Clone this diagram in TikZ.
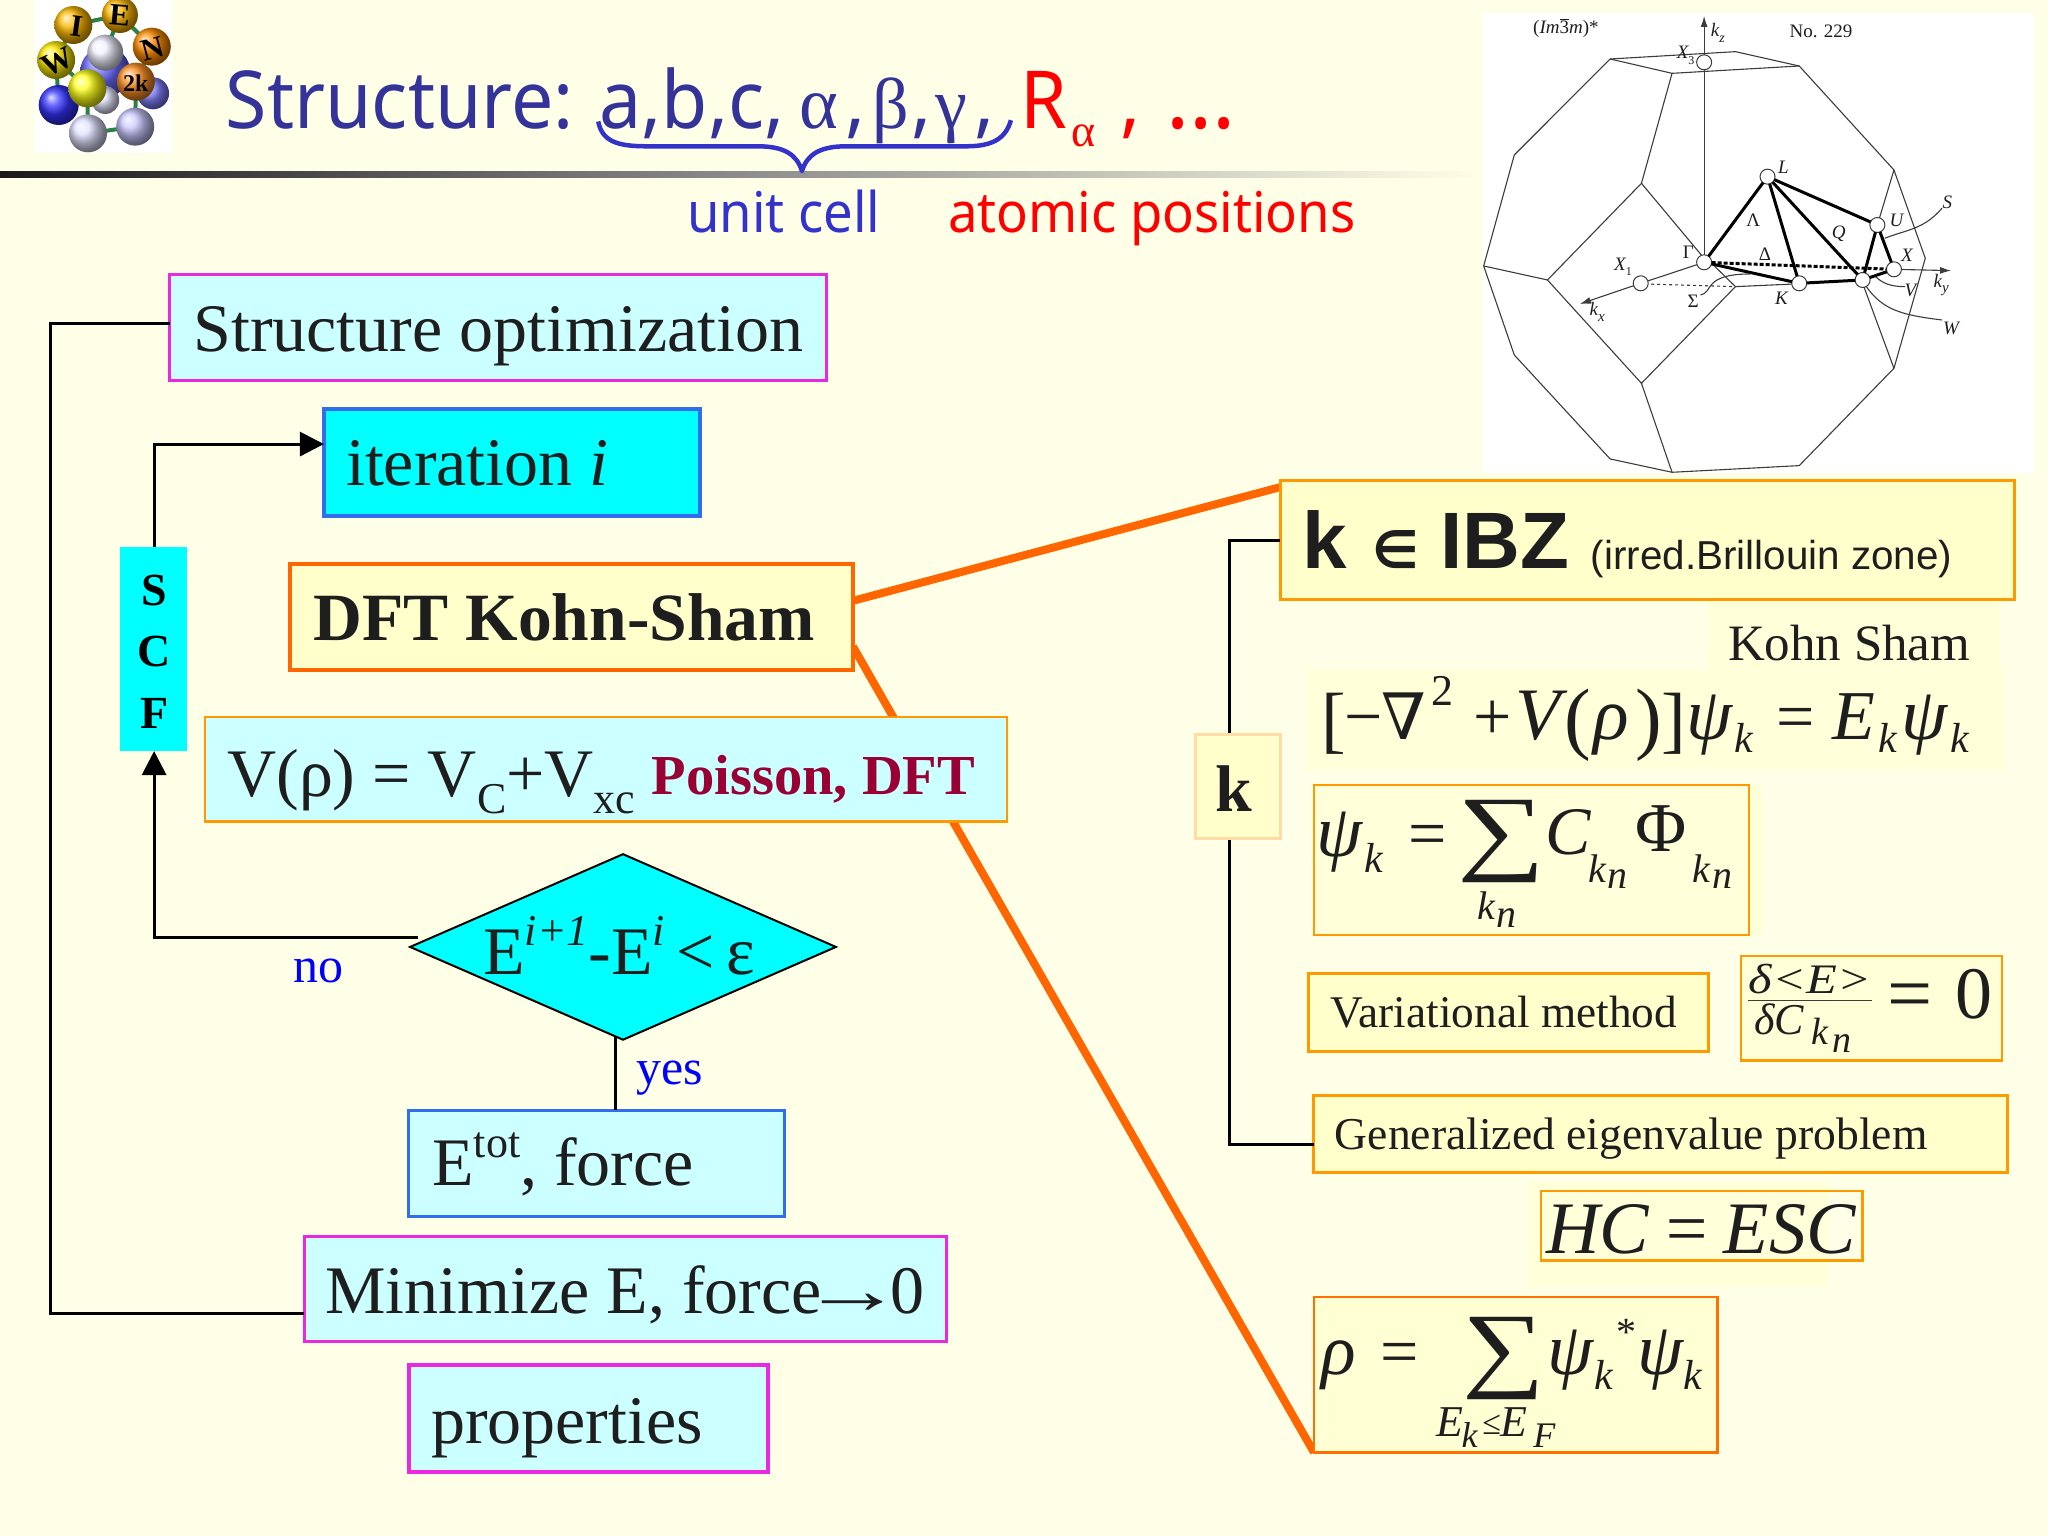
\documentclass[tikz,border=0pt]{standalone}
\usepackage{fontspec}
\usepackage{graphicx}
\setmainfont{Liberation Serif}
\newfontfamily\arial{Liberation Sans}
\newfontfamily\tah[FakeStretch=0.94]{Noto Sans}
\newfontfamily\djsansf{DejaVu Sans}
\newfontfamily\djseriff{DejaVu Serif}
\usetikzlibrary{arrows.meta,shapes.geometric,calc}
\definecolor{bgc}{RGB}{255,255,232}
\definecolor{paleY}{RGB}{255,255,204}
\definecolor{paleC}{RGB}{204,255,255}
\definecolor{cyn}{RGB}{0,255,255}
\definecolor{mag}{RGB}{235,40,225}
\definecolor{blu}{RGB}{50,110,235}
\definecolor{org}{RGB}{255,153,0}
\definecolor{dorg}{RGB}{255,102,0}
\definecolor{navy2}{RGB}{51,51,153}
\definecolor{blu2}{RGB}{51,51,204}
\definecolor{wine}{RGB}{153,0,51}
\definecolor{ink}{RGB}{30,30,30}
\definecolor{bzl}{RGB}{60,60,60}
\newcommand\fs[1]{\fontsize{#1}{#1}\selectfont}
\newcounter{pcn}
\tikzset{
 boxb/.style={draw,rectangle,inner sep=0pt,outer sep=0pt,line width=3pt},
 magbox/.style={boxb,draw=mag,fill=paleC},
 blubox/.style={boxb,draw=blu,fill=paleC},
 orgbox/.style={boxb,draw=org,fill=paleY},
 softbg/.style={rectangle,inner sep=0pt,outer sep=0pt,fill=paleY!55!bgc},
 txt/.style={anchor=base west,inner sep=0pt,outer sep=0pt,text=ink},
 link/.style={black,line width=3pt},
 oline/.style={dorg,line width=8pt},
 arrowed/.style={link,-{Triangle[length=24pt,width=24pt]}},
 thinl/.style={bzl,line width=1.1pt},
 thickl/.style={black,line width=3pt},
 kpt/.style={circle,draw=bzl,fill=white,line width=1pt,minimum size=15pt,inner sep=0pt,outer sep=0pt},
 bzt/.style={inner sep=0pt,outer sep=0pt,text=ink,font=\fs{19}\itshape},
 bzr/.style={bzt,font=\fs{19}},
 bond/.style={line width=4pt,draw={rgb,255:red,40;green,130;blue,70}},
 ltr/.style={inner sep=0pt,font=\fs{31}\bfseries,text=black}
}
% #1 name, #2-#5 x1,y1,x2,y2, #6 style, in reference-overview units
\newcommand\bx[6]{%
 \pgfmathsetmacro\bw{(#4-#2)*1.30612}\pgfmathsetmacro\bh{(#5-#3)*1.30612}%
 \node[#6,minimum width=\bw pt,minimum height=\bh pt] (#1) at ({(#2+#4)/2},{(#3+#5)/2}) {};}
% #1 x, #2 baseline y, #3 font, #4 text
\newcommand\pc[4]{\stepcounter{pcn}\node[txt,font=#3] (pc\arabic{pcn}) at (#1,#2) {#4};}
% #1 x, #2 baseline y, #3 colour, #4 font, #5 text
\newcommand\pcc[5]{\stepcounter{pcn}\node[txt,text=#3,font=#4] (pc\arabic{pcn}) at (#1,#2) {#5};}
\begin{document}
\begin{tikzpicture}[x=1.30612pt,y=-1.30612pt]
\useasboundingbox (0,0) rectangle (1568,1176);
\fill[bgc] (0,0) rectangle (1568,1176);

% ---- top rule
\shade[left color=black!90,right color=bgc,middle color=black!45] (0,131) rectangle (1134,136);

% ---- logo
\begin{scope}[x=0.6378pt,y=-0.3333pt]
\fill[white] (55,0) rectangle (270,460);
\draw[bond] (115,75)--(188,45) (188,45)--(238,140) (115,75)--(88,180) (88,180)--(137,265) (238,140)--(213,245)
 (137,265)--(213,245) (137,265)--(138,400) (213,245)--(212,380) (138,400)--(212,380) (88,180)--(92,315) (188,45)--(165,158) (137,265)--(92,315);
\shade[ball color=blue!60!white] (165,215) circle[radius=25pt];
\shade[ball color=blue!80!white] (92,315) circle[radius=20pt];
\shade[ball color=blue!50!white] (240,280) circle[radius=16pt];
\shade[ball color=blue!10!white] (165,300) circle[radius=14pt];
\shade[ball color=blue!6!white] (165,158) circle[radius=18pt];
\shade[ball color=blue!12!white] (138,400) circle[radius=19pt];
\shade[ball color=blue!22!white] (212,380) circle[radius=19pt];
\shade[ball color=orange!55!yellow] (115,75) circle[radius=19pt];
\shade[ball color=orange!55!yellow] (188,45) circle[radius=18pt];
\shade[ball color=orange!90!yellow] (238,140) circle[radius=19pt];
\shade[ball color=yellow!85!orange] (88,180) circle[radius=19pt];
\shade[ball color=yellow!90!white] (137,265) circle[radius=19pt];
\shade[ball color=orange!85!white] (213,245) circle[radius=19pt];
\node[ltr,rotate=-8] (lI) at (120,80) {I};
\node[ltr,rotate=-5] (lE) at (188,45) {E};
\node[ltr,rotate=15] (lN) at (240,145) {N};
\node[ltr,rotate=25] (lW) at (90,185) {W};
\node[ltr,font=\fs{24}\bfseries] (l2k) at (213,250) {2k};
\end{scope}

% ---- title
\pcc{173}{98}{navy2}{\tah\fs{80}}{Structure:}
\pcc{459}{98}{navy2}{\tah\fs{80}}{a,b,c,}
\pcc{612}{98}{navy2}{\fs{74}}{α}
\pcc{647}{98}{navy2}{\tah\fs{80}}{,}
\pcc{668}{98}{navy2}{\fs{72}}{β}
\pcc{698}{98}{navy2}{\tah\fs{80}}{,}
\pcc{716}{98}{navy2}{\fs{72}}{γ}
\pcc{746}{98}{navy2}{\tah\fs{80}}{,}
\pcc{781}{98}{red}{\tah\fs{80}}{R}
\pcc{820}{112}{red}{\fs{46}}{α}
\pcc{858}{98}{red}{\tah\fs{80}\bfseries}{,}
\pcc{893}{98}{red}{\tah\fs{92}\bfseries}{...}
\coordinate (brL) at (458,93);
\coordinate (brM) at (614,131);
\coordinate (brR) at (774,92);
\draw[blu2,line width=4.5pt,line join=round] (brL) .. controls (461,108) and (472,112) .. (495,112) -- (580,112) .. controls (600,112) and (610,118) .. (brM)
 .. controls (618,118) and (628,112) .. (648,112) -- (740,112) .. controls (760,112) and (770,106) .. (brR);
\pcc{526}{178}{blu2}{\tah\fs{56}}{unit cell}
\pcc{726}{178}{red}{\tah\fs{56}}{atomic positions}

% ---- Brillouin zone
\begin{scope}[shift={(1125.5,0)},x=0.3686pt,y=-0.3333pt]
\fill[white] (35,38) rectangle (1530,1420);
\draw[thinl] (380,177)--(720,155)--(893,198)--(1150,510)--(1235,775)--(1150,1105)--(893,1397)--(548,1417)--(380,1377)--(120,1065)--(37,798)--(120,465)--cycle;
\draw[thinl] (380,177)--(548,220)--(893,198);
\draw[thinl] (548,220)--(465,550)--(210,840)--(37,798);
\draw[thinl] (465,550)--(635,775);
\draw[thinl] (660,795)--(720,860)--(880,852);
\draw[thinl] (210,840)--(465,1150)--(720,860);
\draw[thinl] (465,1150)--(548,1417);
\draw[thinl] (1150,510)--(1105,675);
\draw[thinl] (1065,850)--(1150,1105);
\draw[thinl,dashed] (475,852)--(720,860);
\node[kpt] (G) at (635,787) {};
\node[kpt] (L) at (807,530) {};
\node[kpt] (U) at (1105,675) {};
\node[kpt] (Xp) at (1150,808) {};
\node[kpt] (Wp) at (1065,840) {};
\node[kpt] (Kp) at (893,850) {};
\node[kpt] (X1) at (463,850) {};
\node[kpt] (X3) at (635,187) {};
\coordinate (kzt) at (635,48);
\coordinate (kxt) at (298,912);
\coordinate (kyt) at (1305,812);
\draw[thinl,-{Latex[length=11pt,width=7pt]}] (G) -- (X3) -- (kzt);
\draw[thinl,-{Latex[length=11pt,width=7pt]}] (G) -- (X1) -- (kxt);
\draw[thinl,-{Latex[length=11pt,width=7pt]}] (Xp) -- (kyt);
\draw[thickl] (G)--(L);
\draw[thickl] (L)--(Kp);
\draw[thickl] (L)--(Wp);
\draw[thickl] (L)--(U);
\draw[thickl] (G)--(Kp);
\draw[thickl] (Kp)--(Wp);
\draw[thickl] (Wp)--(U);
\draw[thickl] (U)--(Xp);
\draw[thickl] (Wp)--(Xp);
\draw[thickl,dash pattern=on 4pt off 2pt] (G)--(Xp);
\coordinate (sA) at (1125,715);
\coordinate (sB) at (1280,625);
\coordinate (siA) at (625,885);
\coordinate (siB) at (760,822);
\coordinate (vA) at (1100,830);
\coordinate (vB) at (1180,860);
\coordinate (wA) at (1075,860);
\coordinate (wB) at (1280,960);
\draw[thinl] (sA) .. controls (1180,690) and (1230,690) .. (sB);
\draw[thinl] (siA) .. controls (660,880) and (630,822) .. (siB);
\draw[thinl] (vA) .. controls (1120,850) and (1140,860) .. (vB);
\draw[thinl] (wA) .. controls (1120,930) and (1170,945) .. (wB);
\node[bzr] (tim) at (260,85) {(\textit{Im}$\overline{\hbox{\fs{19}3}}$\textit{m})*};
\node[bzr] (tno) at (952,93) {No. 229};
\node[bzt] (tkz) at (672,98) {k\raisebox{-.3em}{\fs{14}z}};
\node[bzt] (tx3) at (585,165) {X\raisebox{-.3em}{\fs{12}\upshape 3}};
\node[bzt] (tl) at (850,503) {L};
\node[bzt] (tu) at (1157,660) {U};
\node[bzt] (ts) at (1295,607) {S};
\node[bzr] (tla) at (768,660) {Λ};
\node[bzt] (tq) at (1000,700) {Q};
\node[bzr] (tde) at (800,762) {Δ};
\node[bzt] (tx) at (1185,765) {X};
\node[bzr] (tga) at (592,758) {Γ};
\node[bzt] (tx1) at (415,800) {X\raisebox{-.3em}{\fs{12}\upshape 1}};
\node[bzr] (tsi) at (605,905) {Σ};
\node[bzt] (tk) at (845,895) {K};
\node[bzt] (tv) at (1195,870) {V};
\node[bzt] (tky) at (1278,855) {k\raisebox{-.3em}{\fs{15}y}};
\node[bzt] (tw) at (1305,985) {W};
\node[bzt] (tkx) at (345,935) {k\raisebox{-.3em}{\fs{15}x}};
\end{scope}

% ---- orange connectors (under the boxes)
\coordinate (oA) at (653,460);
\coordinate (oB) at (980,373);
\coordinate (oC) at (653,495);
\coordinate (oD) at (1006,1112);
\draw[oline] (oA)--(oB);
\draw[oline] (oC)--(oD);

% ---- background patches on the right
\bx{kshbg}{1307}{460}{1531}{516}{softbg}
\bx{eqbg}{1000}{513}{1535}{590}{softbg}
\bx{psibg}{1006}{601}{1350}{716}{softbg}
\bx{hcbg}{1170}{905}{1400}{985}{softbg}

% ---- left flow boxes
\bx{so}{130}{210}{633}{291}{magbox}
\bx{iter}{248}{313}{536}{395}{boxb,draw=blu,fill=cyn,line width=4pt}
\bx{scf}{92}{419}{143}{575}{fill=cyn,rectangle,inner sep=0pt,outer sep=0pt}
\bx{dft}{222}{432}{653}{513}{boxb,draw=dorg,fill=paleY,line width=4pt}
\bx{vbox}{157}{549}{771}{629}{boxb,draw=org,fill=paleC,line width=2.5pt}
\bx{etot}{313}{850}{601}{931}{blubox}
\bx{mini}{233}{947}{725}{1027}{magbox}
\bx{prop}{313}{1045}{588}{1127}{magbox,line width=4pt}
\node[draw=black,line width=2pt,fill=cyn,diamond,aspect=2.3,inner sep=0pt,outer sep=0pt,minimum width=425.8pt,minimum height=185.5pt] (dia) at (477,725) {};

% ---- left connectors
\coordinate (railT) at (39,248);
\coordinate (railB) at (39,1006);
\draw[link] (so.west |- railT) -- (railT) -- (railB) -- (mini.west |- railB);
\coordinate (sx) at (118,340);
\coordinate (sy) at (118,718);
\coordinate (dl) at (320,718);
\draw[arrowed] (scf.north -| sx) -- (sx) -- (iter.west |- sx);
\draw[arrowed] (dl) -- (sy) -- (scf.south -| sx);
\coordinate (yesT) at (471,794);
\draw[link] (yesT) -- (etot.north -| yesT);

% ---- right boxes
\bx{ibz}{980}{368}{1542}{459}{orgbox}
\coordinate (krT) at (941,414);
\coordinate (krB) at (941,876);
\bx{gen}{1006}{839}{1537}{898}{orgbox}
\draw[link] (ibz.west |- krT) -- (krT) -- (krB) -- (gen.west |- krB);
\bx{kbox}{915}{562}{980}{642}{boxb,draw=org!35!white,fill=paleY}
\bx{psi}{1006}{601}{1339}{716}{boxb,draw=org,fill=paleY!55!bgc,line width=2.2pt}
\bx{varm}{1002}{745}{1308}{805}{orgbox}
\bx{dele}{1333}{732}{1533}{812}{boxb,draw=org,fill=paleY!60!bgc,line width=2.2pt}
\bx{hc}{1180}{912}{1426}{965}{boxb,draw=org,fill=none,line width=2.2pt}
\bx{rho}{1006}{993}{1315}{1112}{boxb,draw=dorg!80!org,fill=paleY!70!bgc,line width=2.2pt}

% ---- left flow text
\pc{148}{269}{\fs{68}}{Structure optimization}
\pc{265}{372}{\fs{68}}{iteration \textit{i}}
\node[inner sep=0pt,font=\fs{46}\bfseries] (scfS) at (118,452) {S};
\node[inner sep=0pt,font=\fs{46}\bfseries] (scfC) at (118,499) {C};
\node[inner sep=0pt,font=\fs{46}\bfseries] (scfF) at (118,546) {F};
\pc{240}{490}{\fs{67.6}\bfseries}{DFT Kohn-Sham}
\pc{174}{610}{\fs{68}}{V(ρ) = V\raisebox{-.25em}{\fs{44}C}+V\raisebox{-.25em}{\fs{44}xc}}
\pcc{499}{608}{wine}{\fs{56.5}\bfseries}{Poisson, DFT}
\pc{370}{746}{\fs{68}}{E\raisebox{.42em}{\fs{44}\itshape i+1}-E\raisebox{.42em}{\fs{44}\itshape i}\,<\,ε}
\pcc{225}{752}{blue}{\fs{50}}{no}
\pcc{487}{830}{blue}{\fs{50}}{yes}
\pc{331}{908}{\fs{68}}{E\raisebox{.42em}{\fs{44}tot}, force}
\pc{249}{1006}{\fs{68}}{Minimize E, force}
\pc{614}{1006}{\fs{68}}{\scalebox{1.5}[1]{→}}
\pc{682}{1006}{\fs{68}}{0}
\pc{330}{1105}{\fs{68}}{properties}

% ---- right text
\pc{997}{435}{\arial\fs{80}\bfseries}{k}
\pc{1051}{435}{\djsansf\fs{52}\bfseries}{∈}
\pc{1103}{435}{\arial\fs{80}\bfseries}{IBZ}
\pc{1218}{436}{\arial\fs{40.4}}{(irred.Brillouin zone)}
\pc{1323}{506}{\fs{51}}{Kohn Sham}
\node[inner sep=0pt,font=\fs{66}\bfseries,text=ink] (kk) at (945,604) {k};
% Kohn-Sham equation
\pc{1012}{570}{\fs{74}}{[}
\pc{1029}{566}{\fs{68}}{−}
\pc{1058}{566}{\djseriff\fs{64}}{∇}
\pc{1096}{540}{\fs{44}}{2}
\pc{1128}{566}{\fs{68}}{+}
\pc{1160}{566}{\fs{74}\itshape}{V}
\pc{1198}{570}{\fs{80}}{(}
\pc{1220}{566}{\fs{74}\itshape}{ρ}
\pc{1252}{570}{\fs{80}}{)}
\pc{1272}{570}{\fs{74}}{]}
\pc{1291}{566}{\fs{74}\itshape}{ψ}
\pc{1328}{576}{\fs{42}\itshape}{k}
\pc{1360}{566}{\fs{68}}{=}
\pc{1403}{566}{\fs{70}\itshape}{E}
\pc{1438}{576}{\fs{42}\itshape}{k}
\pc{1456}{566}{\fs{74}\itshape}{ψ}
\pc{1493}{576}{\fs{42}\itshape}{k}
% psi expansion
\pc{1008}{656}{\fs{74}\itshape}{ψ}
\pc{1045}{668}{\fs{42}\itshape}{k}
\pc{1078}{656}{\fs{68}}{=}
\pc{1116}{660}{\fs{95}}{\scalebox{1.3}[1]{∑}}
\pc{1183}{654}{\fs{68}\itshape}{C}
\pc{1216}{676}{\fs{40}\itshape}{k}
\pc{1231}{680}{\fs{40}\itshape}{n}
\pc{1252}{652}{\fs{70}}{Φ}
\pc{1296}{676}{\fs{40}\itshape}{k}
\pc{1311}{680}{\fs{40}\itshape}{n}
\pc{1131}{704}{\fs{40}\itshape}{k}
\pc{1146}{710}{\fs{40}\itshape}{n}
% variational
\pc{1019}{787}{\fs{45.3}}{Variational method}
\pc{1339}{761}{\fs{42}\itshape}{\scalebox{1.2}[1]{δ<E>}}
\coordinate (fracL) at (1338,766);
\coordinate (fracR) at (1433,766);
\draw[bzl,line width=1.5pt] (fracL)--(fracR);
\pc{1343}{792}{\fs{44}\itshape}{δC}
\pc{1387}{800}{\fs{38}\itshape}{k}
\pc{1403}{806}{\fs{38}\itshape}{n}
\pc{1445}{781}{\fs{80}}{=}
\pc{1497}{780}{\fs{74}}{0}
% generalized
\pc{1022}{880}{\fs{45.6}}{Generalized eigenvalue problem}
\pc{1184}{960}{\fs{74}\itshape}{HC\,=\,ESC}
% density
\pc{1012}{1052}{\fs{72}\itshape}{ρ}
\pc{1057}{1052}{\fs{68}}{=}
\pc{1120}{1056}{\fs{95}}{\scalebox{1.22}[1]{∑}}
\pc{1185}{1052}{\fs{74}\itshape}{ψ}
\pc{1221}{1064}{\fs{42}\itshape}{k}
\pc{1238}{1030}{\fs{40}}{*}
\pc{1254}{1052}{\fs{74}\itshape}{ψ}
\pc{1289}{1064}{\fs{42}\itshape}{k}
\pc{1100}{1100}{\fs{44}\itshape}{E}
\pc{1119}{1108}{\fs{36}\itshape}{k}
\pc{1135}{1098}{\fs{34}}{≤}
\pc{1149}{1100}{\fs{44}\itshape}{E}
\pc{1174}{1108}{\fs{36}\itshape}{F}
\end{tikzpicture}
\end{document}
